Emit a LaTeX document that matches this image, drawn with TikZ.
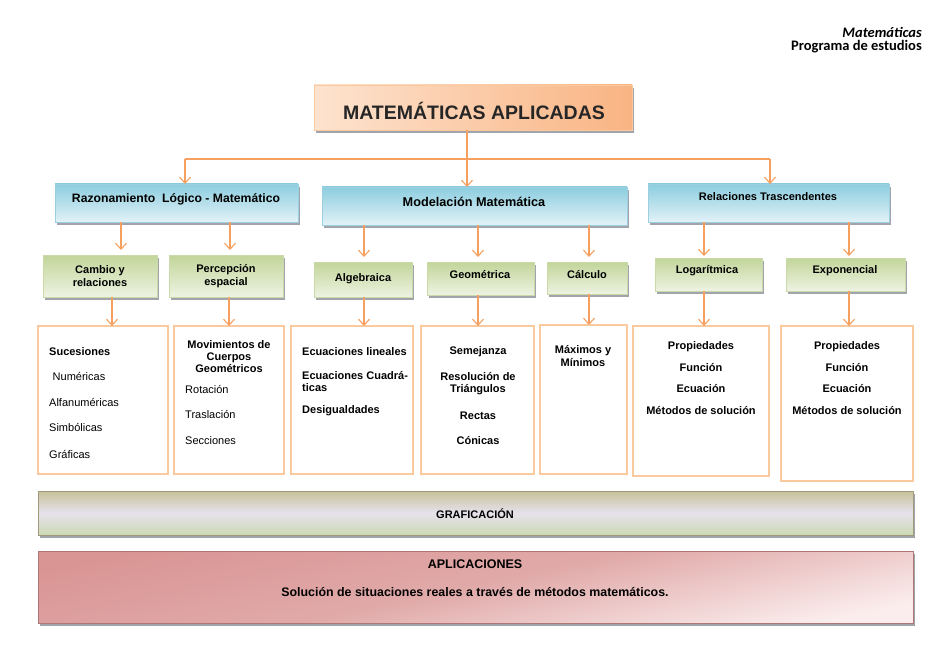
\documentclass[tikz,border=0pt]{standalone}
\usepackage{fontspec}
\setmainfont{Liberation Sans}
\newfontfamily\hdrfont{Carlito}
\usetikzlibrary{arrows.meta,shadows}
\definecolor{arrc}{HTML}{F5A060}
\definecolor{obord}{HTML}{FAC99E}
\definecolor{blueT}{HTML}{8CCDE0}
\definecolor{blueB}{HTML}{E2F2F7}
\definecolor{blueD}{HTML}{9CCFDF}
\definecolor{greenT}{HTML}{C2D59A}
\definecolor{greenB}{HTML}{EEF3E2}
\definecolor{greenD}{HTML}{C9D9AA}
\definecolor{titL}{HTML}{FDE3CF}
\definecolor{titR}{HTML}{F9B483}
\definecolor{grT}{HTML}{C8C19A}
\definecolor{grM}{HTML}{E6E2EC}
\definecolor{grB}{HTML}{CDD9B4}
\definecolor{apD}{HTML}{D99594}
\definecolor{apL}{HTML}{FBEDED}
\definecolor{shd}{HTML}{8A8E96}
\begin{document}
\begin{tikzpicture}[x=1pt,y=-1pt,
  shd/.style={drop shadow={shadow xshift=2pt,shadow yshift=-3pt,fill=shd,opacity=0.8}},
  box/.style={anchor=north west,inner sep=0pt,outer sep=0pt},
  titlebox/.style={box,shd,draw=obord,line width=0.6pt,left color=titL,right color=titR},
  bluebox/.style={box,shd,draw=blueD,line width=0.6pt,top color=blueT,bottom color=blueB},
  greenbox/.style={box,shd,draw=greenD,line width=0.6pt,top color=greenT,bottom color=greenB},
  whitebox/.style={box,draw=obord,line width=1.3pt,fill=white},
  txt/.style={font=\fontsize{11}{13}\selectfont\bfseries,align=center,inner sep=0pt},
  txtl/.style={font=\fontsize{11}{12}\selectfont\bfseries,align=left,anchor=west,inner sep=0pt},
  txtr/.style={font=\fontsize{11}{12}\selectfont,align=left,anchor=west,inner sep=0pt},
  arr/.style={draw=arrc,line width=1.1pt,-{Straight Barb[length=6pt,width=11pt,line width=1.1pt]}},
  lin/.style={draw=arrc,line width=1.1pt}]
\useasboundingbox (0,0) rectangle (947,663);

% header
\node[anchor=east,inner sep=0pt,font=\hdrfont\fontsize{14.5}{16}\selectfont\bfseries\itshape] (hdr1) at (922,32) {Matemáticas};
\node[anchor=east,inner sep=0pt,font=\hdrfont\fontsize{14.5}{16}\selectfont\bfseries] (hdr2) at (922,47) {Programa de estudios};

% title
\node[titlebox,minimum width=318pt,minimum height=45pt] (title) at (314,85) {};
\node[inner sep=0pt,font=\fontsize{19.5}{22}\selectfont\bfseries,text=black!85] (titletxt) at (474,111) {MATEMÁTICAS APLICADAS};

% level 2
\node[bluebox,minimum width=243pt,minimum height=38pt] (razon) at (55,184) {};
\node[txt,font=\fontsize{12.2}{14}\selectfont\bfseries] (razontxt) at (176,199) {Razonamiento\ \ Lógico - Matemático};
\node[bluebox,minimum width=305pt,minimum height=38pt] (model) at (322,187) {};
\node[txt,font=\fontsize{12.7}{14}\selectfont\bfseries] (modeltxt) at (474,202) {Modelación Matemática};
\node[bluebox,minimum width=241pt,minimum height=38pt] (relac) at (648,184) {};
\node[txt] (relactxt) at (768,197) {Relaciones Trascendentes};

% level 3
\node[greenbox,minimum width=114pt,minimum height=42pt] (cambio) at (43,255) {};
\node[txt] (cambiotxt) at (100,276) {Cambio y\\relaciones};
\node[greenbox,minimum width=114pt,minimum height=42pt] (percep) at (169,255) {};
\node[txt] (perceptxt) at (226,276) {Percepción\\espacial};
\node[greenbox,minimum width=98pt,minimum height=35pt] (alg) at (314,262) {};
\node[txt] (algtxt) at (363,279) {Algebraica};
\node[greenbox,minimum width=107pt,minimum height=33pt] (geo) at (427,262) {};
\node[txt] (geotxt) at (480,275) {Geométrica};
\node[greenbox,minimum width=80pt,minimum height=32pt] (calc) at (547,262) {};
\node[txt] (calctxt) at (587,275) {Cálculo};
\node[greenbox,minimum width=107pt,minimum height=33pt] (loga) at (655,258) {};
\node[txt] (logatxt) at (707,271) {Logarítmica};
\node[greenbox,minimum width=119pt,minimum height=33pt] (expo) at (786,258) {};
\node[txt] (expotxt) at (845,271) {Exponencial};

% level 4
\node[whitebox,minimum width=130pt,minimum height=148pt] (b1) at (38,326) {};
\node[whitebox,minimum width=110pt,minimum height=148pt] (b2) at (174,326) {};
\node[whitebox,minimum width=122pt,minimum height=148pt] (b3) at (291,326) {};
\node[whitebox,minimum width=113pt,minimum height=148pt] (b4) at (421,326) {};
\node[whitebox,minimum width=87pt,minimum height=149pt] (b5) at (540,325) {};
\node[whitebox,minimum width=136pt,minimum height=150pt] (b6) at (633,326) {};
\node[whitebox,minimum width=132pt,minimum height=155pt] (b7) at (781,326) {};

\node[txtl] (t11) at (49,352) {Sucesiones};
\node[txtr] (t12) at (52.5,377) {Numéricas};
\node[txtr] (t13) at (49,403) {Alfanuméricas};
\node[txtr] (t14) at (49,428) {Simbólicas};
\node[txtr] (t15) at (49,454) {Gráficas};

\node[txt,font=\fontsize{11}{12}\selectfont\bfseries] (t21) at (229,357) {Movimientos de\\Cuerpos\\Geométricos};
\node[txtr] (t22) at (185,390) {Rotación};
\node[txtr] (t23) at (185,415) {Traslación};
\node[txtr] (t24) at (185,441) {Secciones};

\node[txtl] (t31) at (302,352) {Ecuaciones lineales};
\node[txtl] (t32) at (302,381.5) {Ecuaciones Cuadrá-\\ticas};
\node[txtl] (t33) at (302,411) {Desigualdades};

\node[txt] (t41) at (478,352) {Semejanza};
\node[txt,font=\fontsize{11}{12.5}\selectfont\bfseries] (t42) at (478,383.5) {Resolución de\\Triángulos};
\node[txt] (t43) at (478,416) {Rectas};
\node[txt] (t44) at (478,441) {Cónicas};

\node[txt] (t51) at (583,356.5) {Máximos y\\Mínimos};

\node[txt] (t61) at (701,347) {Propiedades};
\node[txt] (t62) at (701,368) {Función};
\node[txt] (t63) at (701,389) {Ecuación};
\node[txt] (t64) at (701,411) {Métodos de solución};

\node[txt] (t71) at (847,347) {Propiedades};
\node[txt] (t72) at (847,368) {Función};
\node[txt] (t73) at (847,389) {Ecuación};
\node[txt] (t74) at (847,411) {Métodos de solución};

% bottom bars
\node[box,shd,draw=grT!80!black,line width=0.4pt,minimum width=875pt,minimum height=44pt,
  top color=grT,bottom color=grB,middle color=grM] (graf) at (38,491) {};
\node[txt] (graftxt) at (475,514) {GRAFICACIÓN};
\node[box,shd,draw=apD!80!black,line width=0.4pt,minimum width=875pt,minimum height=72pt,
  left color=apD,right color=apL,middle color=apD!80!white,shading angle=12] (apl) at (38,551) {};
\node[txt,font=\fontsize{12.5}{14}\selectfont\bfseries] (apltxt) at (475,564) {APLICACIONES};
\node[txt,font=\fontsize{12.4}{14}\selectfont\bfseries] (apltxt2) at (475,592) {Solución de situaciones reales a través de métodos matemáticos.};

% connectors level 1
\coordinate (bus) at (467,159);
\coordinate (busL) at (185,159);
\coordinate (busR) at (770,159);
\draw[lin] (title.south -| bus) -- (bus);
\draw[lin] (busL) -- (busR);
\draw[arr] (busL) -- (busL |- razon.north);
\draw[arr] (bus) -- (bus |- model.north);
\draw[arr] (busR) -- (busR |- relac.north);

% columns
\coordinate (x1) at (121,0);
\coordinate (x2) at (230,0);
\coordinate (x3) at (364,0);
\coordinate (x4) at (478,0);
\coordinate (x5) at (589,0);
\coordinate (x6) at (704,0);
\coordinate (x7) at (849,0);
\coordinate (y1) at (112,0);
\coordinate (y2) at (229,0);

\draw[arr,shorten >=5pt] (razon.south -| x1) -- (cambio.north -| x1);
\draw[arr,shorten >=5pt] (razon.south -| x2) -- (percep.north -| x2);
\draw[arr,shorten >=5pt] (model.south -| x3) -- (alg.north -| x3);
\draw[arr,shorten >=5pt] (model.south -| x4) -- (geo.north -| x4);
\draw[arr,shorten >=5pt] (model.south -| x5) -- (calc.north -| x5);
\draw[arr,shorten >=2pt] (relac.south -| x6) -- (loga.north -| x6);
\draw[arr,shorten >=2pt] (relac.south -| x7) -- (expo.north -| x7);

\draw[arr] (cambio.south -| y1) -- (b1.north -| y1);
\draw[arr] (percep.south -| y2) -- (b2.north -| y2);
\draw[arr] (alg.south -| x3) -- (b3.north -| x3);
\draw[arr] (geo.south -| x4) -- (b4.north -| x4);
\draw[arr] (calc.south -| x5) -- (b5.north -| x5);
\draw[arr] (loga.south -| x6) -- (b6.north -| x6);
\draw[arr] (expo.south -| x7) -- (b7.north -| x7);
\end{tikzpicture}
\end{document}
